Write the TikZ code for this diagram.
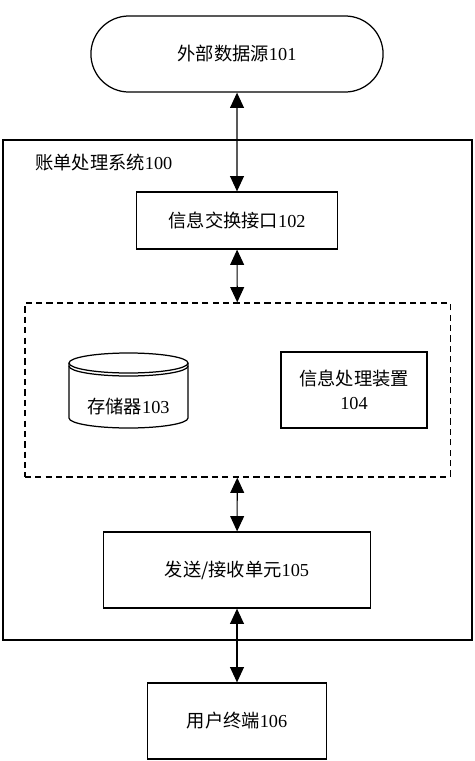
\documentclass[tikz,border=0pt]{standalone}
\usepackage{fontspec}
\setmainfont{Liberation Serif}
\newfontfamily\cjk{Noto Sans CJK SC}
\usetikzlibrary{arrows.meta,shapes.misc}

\begin{document}
\begin{tikzpicture}[x=0.01in,y=-0.01in,
    font=\fontsize{13.2}{15}\selectfont,
    every node/.style={inner sep=0pt},
    unit/.style={draw,line width=0.9pt,rectangle},
    link/.style={line width=0.8pt,{Triangle[length=11pt,width=10pt]}-{Triangle[length=11pt,width=10pt]}}]
  \useasboundingbox (0,0) rectangle (474,761);

  % outer system frame
  \draw[line width=0.9pt] (3,140) rectangle (472,640);
  \node[anchor=west] (syslabel) at (35,163) {{\cjk 账单处理系统}100};

  \node[draw,line width=0.9pt,rounded rectangle,minimum width=2.92in,minimum height=0.76in] (source) at (237,54) {{\cjk 外部数据源}101};
  \node[unit,minimum width=2.01in,minimum height=0.57in] (iface) at (237,220.5) {{\cjk 信息交换接口}102};
  \node[draw,dash pattern=on 4.5pt off 3pt,line width=0.9pt,minimum width=4.25in,minimum height=1.74in] (proc) at (237.5,390) {};

  % storage cylinder
  \draw[line width=0.9pt] (69,363) -- (69,418) arc[start angle=180,end angle=0,x radius=59.5,y radius=10] -- (188,363);
  \draw[line width=0.9pt] (128.5,363) ellipse[x radius=59.5,y radius=10];
  \draw[line width=0.9pt] (69,366) arc[start angle=180,end angle=0,x radius=59.5,y radius=10];
  \node (store) at (128.5,407) {{\cjk 存储器}103};

  \node[unit,minimum width=1.46in,minimum height=0.76in,align=center] (device) at (354,390) {{\cjk 信息处理装置}\\[2pt]104};
  \node[unit,minimum width=2.67in,minimum height=0.76in] (trx) at (237,570) {{\cjk 发送/接收单元}105};
  \node[unit,minimum width=1.79in,minimum height=0.76in] (user) at (237,721) {{\cjk 用户终端}106};

  \draw[link] (source) -- (iface);
  \draw[link] (iface) -- (proc);
  \draw[link] (proc) -- (trx);
  \draw[link] (trx) -- (user);
\end{tikzpicture}
\end{document}
